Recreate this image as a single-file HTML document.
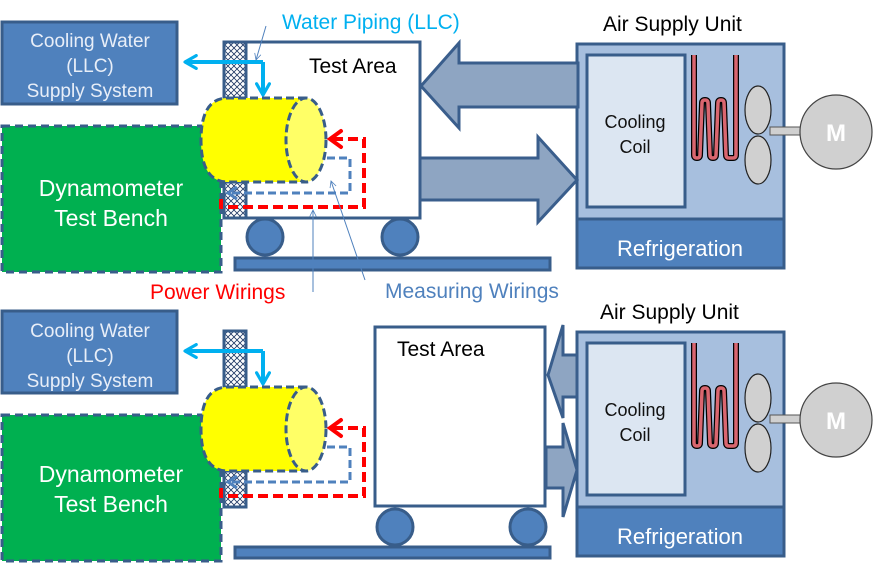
<!DOCTYPE html>
<html><head><meta charset="utf-8"><style>
html,body{margin:0;padding:0;background:#fff}
svg{display:block}
text{font-family:"Liberation Sans",sans-serif}
</style></head><body>
<svg width="875" height="565" viewBox="0 0 875 565" xmlns="http://www.w3.org/2000/svg">
<defs>
<pattern id="hatch" width="6" height="6" patternUnits="userSpaceOnUse">
<rect width="6" height="6" fill="#fff"/>
<path d="M0,0 L6,6 M6,0 L0,6" stroke="#1f3864" stroke-width="0.8"/>
</pattern>
<marker id="cy" viewBox="0 0 10 10" refX="8" refY="5" markerWidth="4" markerHeight="4" orient="auto"><path d="M1,1 L8,5 L1,9" fill="none" stroke="#00b0f0" stroke-width="2" stroke-linecap="round" stroke-linejoin="round"/></marker>
<marker id="lead" viewBox="0 0 10 10" refX="9" refY="5" markerWidth="8" markerHeight="8" orient="auto"><path d="M1,1 L9,5 L1,9" fill="none" stroke="#4f81bd" stroke-width="1"/></marker>
<g id="left">
  <rect x="2" y="22" width="175" height="82" fill="#4f81bd" stroke="#385d8a" stroke-width="3"/>
  <rect x="2" y="126" width="219" height="146" fill="#00b050" stroke="#385d8a" stroke-width="3" stroke-dasharray="8,5"/>
  <rect x="224" y="42" width="22" height="56" fill="url(#hatch)" stroke="#385d8a" stroke-width="3"/>
  <rect x="224" y="182" width="22" height="36" fill="url(#hatch)" stroke="#385d8a" stroke-width="3"/>
  <path d="M306,98 L228,98 Q201,98 201,140 Q201,182 228,182 L306,182" fill="#ffff00" stroke="#385d8a" stroke-width="3" stroke-dasharray="8,4"/>
  <ellipse cx="306" cy="140" rx="20" ry="42" fill="#ffff66" stroke="#385d8a" stroke-width="3" stroke-dasharray="8,4"/>
  <path d="M263,62 L185,62" fill="none" stroke="#00b0f0" stroke-width="4" marker-end="url(#cy)"/>
  <path d="M263,62 L263,95" fill="none" stroke="#00b0f0" stroke-width="4" marker-end="url(#cy)"/>
  <path d="M327,158 L350,158 L350,193 L230,193" fill="none" stroke="#4f81bd" stroke-width="3" stroke-dasharray="8,4"/>
  <path d="M237,187 L228,193 L237,199" fill="none" stroke="#4f81bd" stroke-width="3"/>
  <path d="M333,139 L364,139 L364,207 L221,207 L221,197" fill="none" stroke="#ff0000" stroke-width="4" stroke-dasharray="10,5"/>
  <path d="M341,131 L330,139 L341,147" fill="none" stroke="#ff0000" stroke-width="4" stroke-linecap="round"/>
</g>
<g id="asu">
  <rect x="577" y="44" width="207" height="224" fill="#a7bfde" stroke="#385d8a" stroke-width="3"/>
  <rect x="577" y="219" width="207" height="49" fill="#4f81bd" stroke="#385d8a" stroke-width="3"/>
  <rect x="587" y="55" width="98" height="152" fill="#dce6f2" stroke="#385d8a" stroke-width="3"/>
  <path d="M694,55 L694,155 Q694,158 697,158 Q700,158 700,155 L702,103 Q702,100 705,100 Q708,100 708,103 L710,155 Q710,158 713,158 Q716,158 716,155 L718,103 Q718,100 721,100 Q724,100 724,103 L726,155 Q726,158 729,158 L733,158 Q736,158 736,155 L736,55" fill="none" stroke="#000" stroke-width="6" stroke-linejoin="round"/>
  <path d="M694,55 L694,155 Q694,158 697,158 Q700,158 700,155 L702,103 Q702,100 705,100 Q708,100 708,103 L710,155 Q710,158 713,158 Q716,158 716,155 L718,103 Q718,100 721,100 Q724,100 724,103 L726,155 Q726,158 729,158 L733,158 Q736,158 736,155 L736,55" fill="none" stroke="#d9666f" stroke-width="3.5" stroke-linejoin="round"/>
  <rect x="770" y="127" width="34" height="8" fill="#d0d0d0" stroke="#555" stroke-width="1"/>
  <ellipse cx="758" cy="110" rx="13" ry="24" fill="#d0d0d0" stroke="#222" stroke-width="1.2"/>
  <ellipse cx="758" cy="160" rx="13" ry="24" fill="#d0d0d0" stroke="#222" stroke-width="1.2"/>
  <ellipse cx="836" cy="132" rx="36" ry="37" fill="#d0d0d0" stroke="#444" stroke-width="1.2"/>
</g>
</defs>

<!-- TOP shapes -->
<use href="#asu"/>
<rect x="246" y="42" width="174" height="176" fill="#fff" stroke="#385d8a" stroke-width="3"/>
<use href="#left"/>
<circle cx="265" cy="237" r="18" fill="#4f81bd" stroke="#385d8a" stroke-width="3"/>
<circle cx="400" cy="237" r="18" fill="#4f81bd" stroke="#385d8a" stroke-width="3"/>
<rect x="235" y="258" width="315" height="12" fill="#4f81bd" stroke="#385d8a" stroke-width="3"/>
<path d="M578,63 L459,63 L459,43 L421,86 L459,128 L459,107 L578,107 Z" fill="#8ea5c2" stroke="#3a5e8c" stroke-width="3"/>
<path d="M420,158 L538,158 L538,137 L577,180 L538,222 L538,200 L420,200 Z" fill="#8ea5c2" stroke="#3a5e8c" stroke-width="3"/>
<line x1="266" y1="26" x2="256" y2="60" stroke="#4f81bd" stroke-width="1" marker-end="url(#lead)"/>
<line x1="313" y1="292" x2="313" y2="210" stroke="#4f81bd" stroke-width="1" marker-end="url(#lead)"/>
<line x1="365" y1="280" x2="331" y2="181" stroke="#4f81bd" stroke-width="1" marker-end="url(#lead)"/>

<!-- BOTTOM shapes -->
<use href="#asu" transform="translate(0,288)"/>
<rect x="375" y="327" width="170" height="179" fill="#fff" stroke="#385d8a" stroke-width="3"/>
<use href="#left" transform="translate(0,289)"/>
<circle cx="395" cy="527" r="18" fill="#4f81bd" stroke="#385d8a" stroke-width="3"/>
<circle cx="528" cy="527" r="18" fill="#4f81bd" stroke="#385d8a" stroke-width="3"/>
<rect x="235" y="547" width="315" height="11" fill="#4f81bd" stroke="#385d8a" stroke-width="3"/>
<path d="M577,355 L563,355 L563,325 L548,375 L563,418 L563,397 L577,397 Z" fill="#8ea5c2" stroke="#3a5e8c" stroke-width="3"/>
<path d="M546,447 L563,447 L563,423 L577,470 L563,517 L563,488 L546,488 Z" fill="#8ea5c2" stroke="#3a5e8c" stroke-width="3"/>

<!-- TEXT -->
<g font-size="19" fill="#e8eef8" text-anchor="middle">
<text x="90" y="47">Cooling Water</text><text x="90" y="72">(LLC)</text><text x="90" y="97">Supply System</text>
<text x="90" y="337">Cooling Water</text><text x="90" y="362">(LLC)</text><text x="90" y="387">Supply System</text>
</g>
<g font-size="23" fill="#fff" text-anchor="middle">
<text x="111" y="196">Dynamometer</text><text x="111" y="226">Test Bench</text>
<text x="111" y="482">Dynamometer</text><text x="111" y="512">Test Bench</text>
</g>
<g font-size="22" fill="#fff" text-anchor="middle">
<text x="680" y="256">Refrigeration</text><text x="680" y="544">Refrigeration</text>
</g>
<g font-size="18" fill="#111" text-anchor="middle">
<text x="635" y="128">Cooling</text><text x="635" y="153">Coil</text>
<text x="635" y="416">Cooling</text><text x="635" y="441">Coil</text>
</g>
<g font-size="24" fill="#fff" font-weight="bold" text-anchor="middle">
<text x="836" y="141">M</text><text x="836" y="429">M</text>
</g>
<g font-size="21" fill="#000">
<text x="603" y="31">Air Supply Unit</text>
<text x="600" y="319">Air Supply Unit</text>
<text x="309" y="73">Test Area</text>
<text x="397" y="356">Test Area</text>
</g>
<text x="282" y="29" font-size="21" fill="#00b0f0">Water Piping (LLC)</text>
<text x="150" y="299" font-size="21" fill="#ff0000">Power Wirings</text>
<text x="385" y="298" font-size="21" fill="#4f81bd">Measuring Wirings</text>
</svg>
</body></html>
